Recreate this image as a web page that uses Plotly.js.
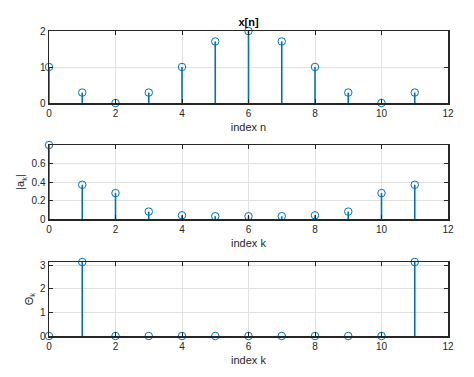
<!DOCTYPE html>
<html>
<head>
<meta charset="utf-8">
<script src="https://cdn.plot.ly/plotly-3.0.1.min.js"></script>
<style>html,body{margin:0;padding:0;background:#fff;}#chart{width:474px;height:377px;}</style>
</head>
<body>
<div id="chart"></div>
<script>
// Data
const indices = [0, 1, 2, 3, 4, 5, 6, 7, 8, 9, 10, 11];
const xn = [1, 0.29, 0, 0.29, 1, 1.71, 2, 1.71, 1, 0.29, 0, 0.29];
const ak = [0.8, 0.37, 0.28, 0.08, 0.04, 0.03, 0.03, 0.03, 0.04, 0.08, 0.28, 0.37];
const theta = [0, 3.14, 0, 0, 0, 0, 0, 0, 0, 0, 0, 3.14];
const xTicks = [0, 2, 4, 6, 8, 10, 12];

const C = '#0072BD';
const FONT = 'Liberation Sans, Arial, sans-serif';

function stemTraces(xs, ys, xa, ya) {
  const sx = [], sy = [];
  xs.forEach((x, i) => { sx.push(x, x, null); sy.push(0, ys[i], null); });
  return [
    {x: sx, y: sy, xaxis: xa, yaxis: ya, mode: 'lines', type: 'scatter',
     line: {color: C, width: 1.6}, hoverinfo: 'skip', showlegend: false, cliponaxis: false},
    {x: xs, y: ys, xaxis: xa, yaxis: ya, mode: 'markers', type: 'scatter',
     marker: {symbol: 'circle-open', size: 7.5, color: C, line: {width: 1, color: C}},
     showlegend: false, cliponaxis: false}
  ];
}

const data = [].concat(
  stemTraces(indices, xn, 'x', 'y'),
  stemTraces(indices, ak, 'x2', 'y2'),
  stemTraces(indices, theta, 'x3', 'y3')
);

const W = 474, H = 377;
const xDom = [49 / W, 448 / W];
function yDom(top, bottom) { return [(H - bottom) / H, (H - top) / H]; }

function xAxis(title, anchor) {
  return {
    domain: xDom, range: [0, 12], tickvals: xTicks, anchor: anchor,
    showline: true, linecolor: '#262626', linewidth: 1.5, mirror: 'ticks',
    ticks: 'inside', ticklen: 4, tickcolor: '#262626', tickwidth: 1,
    showgrid: true, gridcolor: '#e1e1e1', gridwidth: 1, zeroline: false,
    tickfont: {family: FONT, size: 10, color: '#262626'},
    title: {text: title, font: {family: FONT, size: 11, color: '#262626'}, standoff: 6},
    automargin: false
  };
}
function yAxis(dom, range, ticks, title, anchor) {
  const ax = {
    domain: dom, range: range, tickvals: ticks, anchor: anchor,
    showline: true, linecolor: '#262626', linewidth: 1.5, mirror: 'ticks',
    ticks: 'inside', ticklen: 4, tickcolor: '#262626', tickwidth: 1,
    showgrid: true, gridcolor: '#e1e1e1', gridwidth: 1, zeroline: false,
    tickfont: {family: FONT, size: 10, color: '#262626'},
    automargin: false
  };
  if (title) ax.title = {text: title, font: {family: FONT, size: 11, color: '#262626'}, standoff: 4};
  return ax;
}

const layout = {
  width: W, height: H,
  margin: {l: 0, r: 0, t: 0, b: 0},
  paper_bgcolor: '#ffffff', plot_bgcolor: '#ffffff',
  title: {text: '<b>x[n]</b>', font: {family: FONT, size: 11, color: '#000'},
          x: 248.5 / W, xanchor: 'center', y: 1 - 22 / H, yanchor: 'middle',
          xref: 'paper', yref: 'container'},
  xaxis: xAxis('index n', 'y'),
  yaxis: yAxis(yDom(31, 103), [0, 2], [0, 1, 2], null, 'x'),
  xaxis2: xAxis('index k', 'y2'),
  yaxis2: yAxis(yDom(145, 219), [0, 0.8], [0, 0.2, 0.4, 0.6], '|a<sub>k</sub>|', 'x2'),
  xaxis3: xAxis('index k', 'y3'),
  yaxis3: yAxis(yDom(262, 336), [0, 3.14], [0, 1, 2, 3], 'Θ<sub>k</sub>', 'x3')
};

Plotly.newPlot('chart', data, layout, {displayModeBar: false, staticPlot: true});
</script>
</body>
</html>
